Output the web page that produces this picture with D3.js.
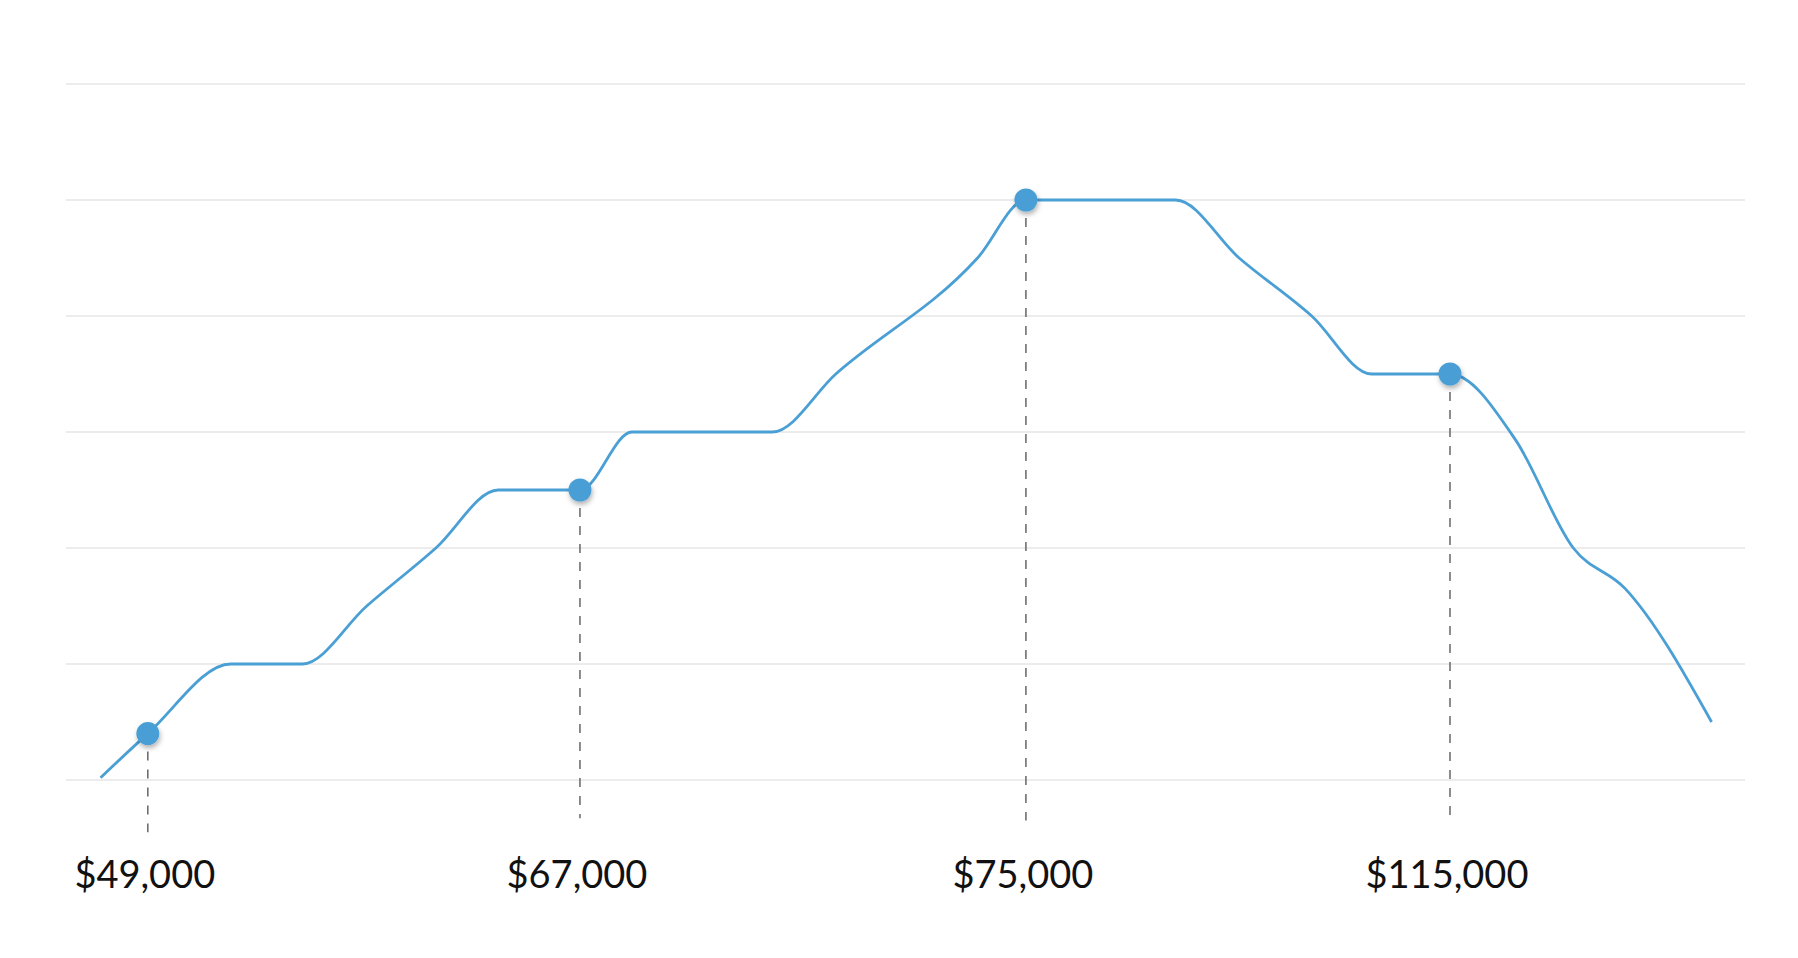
<!DOCTYPE html>
<html><head><meta charset="utf-8">
<script src="https://cdn.jsdelivr.net/npm/d3@7"></script>
<style>body{margin:0;background:#fff}</style></head>
<body><svg id="c" width="1798" height="958"></svg>
<script>
// x positions (arbitrary units) and values (grid units)
const xs     = [30, 71, 143, 205, 261, 321, 375, 446, 491, 613, 668, 791, 833, 963, 1018, 1081, 1133, 1201, 1258, 1308, 1353, 1428];
const values = [0.02, 0.4, 1, 1, 1.5, 2, 2.5, 2.5, 3, 3, 3.5, 4.5, 5, 5, 4.5, 4, 3.5, 3.5, 2.93, 2, 1.65, 0.5];
const markerIdx = [1, 7, 12, 17];
const labels = ["$49,000", "$67,000", "$75,000", "$115,000"];
const dashEnds = [-0.45, -0.33, -0.35, -0.33];
const yTicks = [0,1,2,3,4,5,6];

const svg = d3.select("#c");
const x = d3.scaleLinear().domain([0,1457]).range([66,1745]);
const y = d3.scaleLinear().domain([0,6]).range([780,84]);

svg.append("g").selectAll("line").data(yTicks).join("line")
  .attr("x1",x(0)).attr("x2",x(1457)).attr("y1",d=>y(d)).attr("y2",d=>y(d))
  .attr("stroke","#e6e6e6").attr("stroke-width",1.5);

const defs = svg.append("defs");
const f = defs.append("filter").attr("id","sh").attr("x","-50%").attr("y","-50%").attr("width","200%").attr("height","200%");
f.append("feDropShadow").attr("dx",1).attr("dy",3).attr("stdDeviation",2.5).attr("flood-color","#000").attr("flood-opacity",0.3);

const pts = xs.map((v,i)=>[v,values[i]]);
svg.selectAll("line.d").data(markerIdx).join("line").attr("class","d")
  .attr("x1",i=>x(xs[i])).attr("x2",i=>x(xs[i]))
  .attr("y1",i=>y(values[i])).attr("y2",(i,k)=>y(dashEnds[k]))
  .attr("stroke","#666").attr("stroke-width",1.5).attr("stroke-dasharray","9,9");

svg.append("path").datum(pts)
  .attr("d",d3.line().x(d=>x(d[0])).y(d=>y(d[1])).curve(d3.curveMonotoneX))
  .attr("fill","none").attr("stroke","#4a9fd5").attr("stroke-width",2.8);

svg.selectAll("circle").data(markerIdx).join("circle")
  .attr("cx",i=>x(xs[i])).attr("cy",i=>y(values[i])).attr("r",11.5)
  .attr("fill","#4a9fd5").attr("filter","url(#sh)");

svg.selectAll("text").data(markerIdx).join("text")
  .attr("x",i=>x(xs[i])-3).attr("y",888).attr("text-anchor","middle")
  .attr("font-family","Lato, 'Open Sans', sans-serif").attr("font-size",38).attr("fill","#111")
  .text((i,k)=>labels[k]);
</script></body></html>
